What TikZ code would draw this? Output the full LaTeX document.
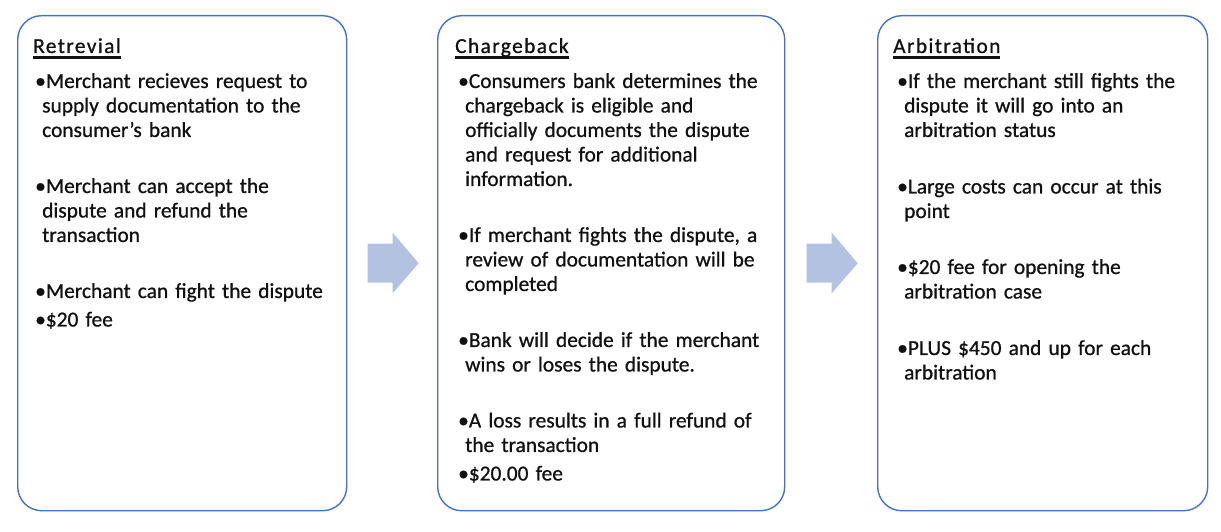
\documentclass[tikz,border=0pt]{standalone}
\usepackage{fontspec}
\setmainfont{Carlito}[FakeBold=0.8]
\newfontfamily\titlefont{Carlito}[FakeBold=0.8, LetterSpace=6.5]
\usetikzlibrary{calc}
\definecolor{boxblue}{HTML}{4472C4}
\definecolor{arrowfill}{HTML}{B4C2E2}
\definecolor{ink}{HTML}{111111}
\newcommand{\ttl}[1]{\setbox0\hbox{\titlefont #1}\rlap{\rule[-5.8pt]{\wd0}{2.6pt}}\box0}
\newcommand{\ind}{\hspace*{7pt}}
\begin{document}
\begin{tikzpicture}[x=1pt,y=-1pt,
  box/.style={draw=boxblue, line width=1.4pt, rounded corners=24pt, inner sep=0pt, anchor=north west},
  txt/.style={anchor=base west, inner sep=0pt, text width=380pt, align=left, text=ink,
    font=\fontsize{21.4}{24.5}\selectfont},
  arr/.style={fill=arrowfill, draw=none}]
\useasboundingbox (0,0) rectangle (1221,532);
\node[box, minimum width=329pt, minimum height=495pt] (b1) at (17,15) {};
\node[box, minimum width=347pt, minimum height=495pt] (b2) at (437,15) {};
\node[box, minimum width=330pt, minimum height=495pt] (b3) at (877,15) {};

\node[txt] (t1) at ($(b1.north west)+(16,38)$) {\ttl{Retrevial}\\[10.5pt]
\hspace*{2pt}•Merchant recieves request to\\
\hspace*{2pt}\ind supply documentation to the\\
\hspace*{2pt}\ind consumer’s bank\\[31.5pt]
\hspace*{2pt}•Merchant can accept the\\
\hspace*{2pt}\ind dispute and refund the\\
\hspace*{2pt}\ind transaction\\[31.5pt]
\hspace*{2pt}•Merchant can fight the dispute\\[4pt]
\hspace*{2pt}•\$20 fee};

\node[txt] (t2) at ($(b2.north west)+(18,38)$) {\ttl{Chargeback}\\[10.5pt]
\hspace*{3pt}•Consumers bank determines the\\
\hspace*{3pt}\ind chargeback is eligible and\\
\hspace*{3pt}\ind officially documents the dispute\\
\hspace*{3pt}\ind and request for additional\\
\hspace*{3pt}\ind information.\\[31.5pt]
\hspace*{3pt}•If merchant fights the dispute, a\\
\hspace*{3pt}\ind review of documentation will be\\
\hspace*{3pt}\ind completed\\[31.5pt]
\hspace*{3pt}•Bank will decide if the merchant\\
\hspace*{3pt}\ind wins or loses the dispute.\\[31.5pt]
\hspace*{3pt}•A loss results in a full refund of\\
\hspace*{3pt}\ind the transaction\\[4pt]
\hspace*{3pt}•\$20.00 fee};

\node[txt] (t3) at ($(b3.north west)+(16,38)$) {\ttl{Arbitration}\\[10.5pt]
\hspace*{4pt}•If the merchant still fights the\\
\hspace*{4pt}\ind dispute it will go into an\\
\hspace*{4pt}\ind arbitration status\\[32pt]
\hspace*{4pt}•Large costs can occur at this\\
\hspace*{4pt}\ind point\\[31.5pt]
\hspace*{4pt}•\$20 fee for opening the\\
\hspace*{4pt}\ind arbitration case\\[32pt]
\hspace*{4pt}•PLUS \$450 and up for each\\
\hspace*{4pt}\ind arbitration};

\coordinate (m1) at ($(b1.east)!0.5!(b2.west)$);
\coordinate (m2) at ($(b2.east)!0.5!(b3.west)$);
\fill[arr, shift={(m1)}] (-24.5,-19.5) -- (0.5,-19.5) -- (0.5,-30.5) -- (26.5,0) -- (0.5,30) -- (0.5,19.5) -- (-24.5,19.5) -- cycle;
\fill[arr, shift={(m2)}] (-24.5,-19.5) -- (0.5,-19.5) -- (0.5,-30.5) -- (26.5,0) -- (0.5,30) -- (0.5,19.5) -- (-24.5,19.5) -- cycle;
\end{tikzpicture}
\end{document}
